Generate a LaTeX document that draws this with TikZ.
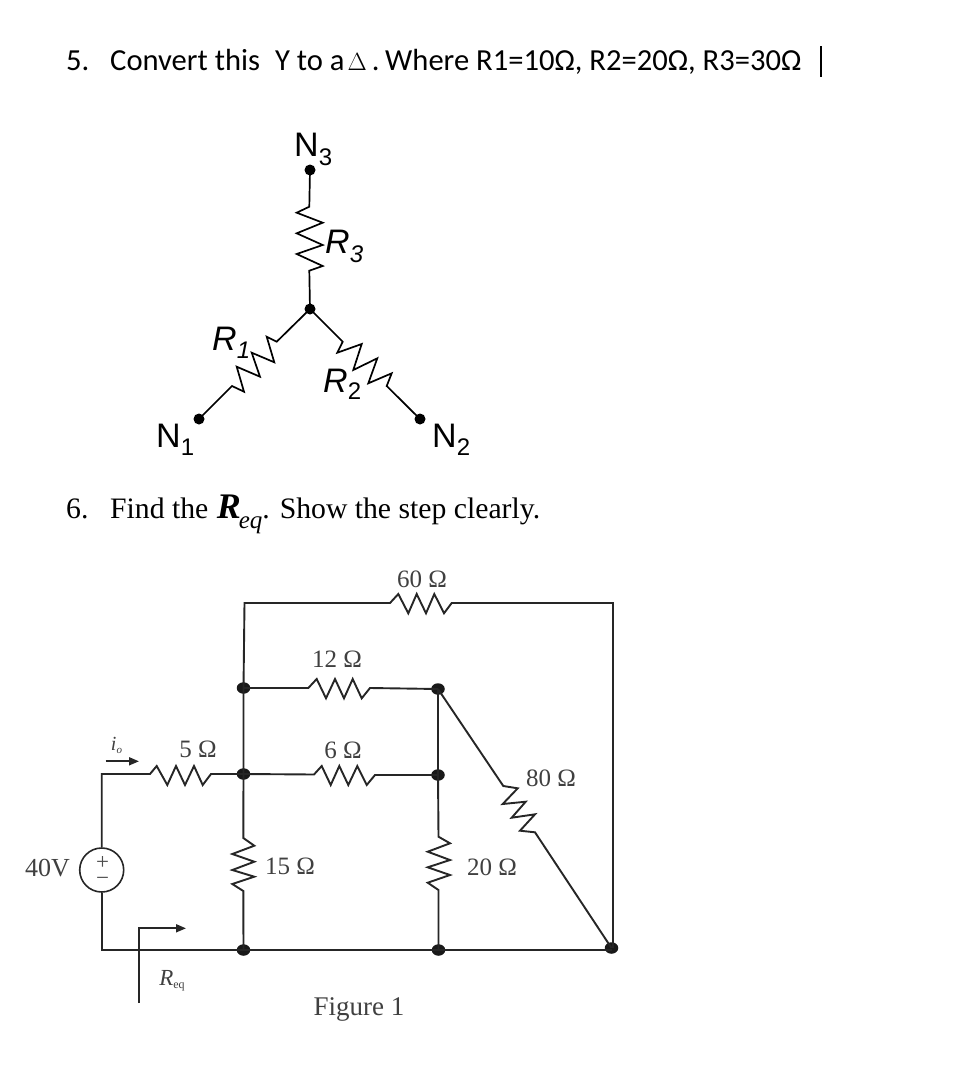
\documentclass[tikz,border=0pt]{standalone}
\usepackage{fontspec}
\setmainfont{Liberation Serif}
\newfontfamily\calib{Carlito}
\newfontfamily\helv{Liberation Sans}
\usetikzlibrary{arrows.meta,shapes.geometric}
\newcommand{\fs}[1]{\fontsize{#1}{#1}\selectfont}
\newcommand{\lowsub}[2]{\raisebox{-#1pt}{\fs{24}\upshape #2}}
\newcommand{\pmfont}{\fontsize{23}{16}\selectfont\lineskiplimit=-100pt\relax}
\tikzset{
  wire/.style={line width=1.9pt,draw=black!85,line join=miter},
  ywire/.style={line width=1.7pt,draw=black,line join=miter},
  jdot/.style={shape=ellipse,fill=black!90,inner sep=0pt,minimum width=13.5pt,minimum height=11.5pt},
  ydot/.style={shape=circle,fill=black,inner sep=0pt,minimum size=11pt},
  val/.style={inner sep=0pt,text=black!75,font=\fs{25}},
  ylab/.style={inner sep=0pt,anchor=base west,font=\helv\fs{34}},
  ptr/.style={line width=1.8pt,draw=black!85,-{Triangle[length=10pt,width=8pt]}},
  title/.style={inner sep=0pt,anchor=base west,font=\calib\fs{30.6}},
  head/.style={inner sep=0pt,anchor=base west,font=\fs{29.7}},
}
\begin{document}
\begin{tikzpicture}[x=1pt,y=-1pt]
\useasboundingbox (0,0) rectangle (978,1076);
% headings
\node[title] (q5) at (66,70) {5.};
\node[title] (q5a) at (110,70) {Convert this\hspace{15pt}Y to a\hspace{3pt}$\Delta$\hspace{5pt}.};
\node[title] (q5b) at (385,70) {Where R1=10Ω, R2=20Ω, R3=30Ω};
\coordinate (curT) at (821,46);
\coordinate (curB) at (821,77);
\draw[line width=1.4pt] (curT) -- (curB);
\node[head] (q6) at (66,518) {6.};
\node[head] (q6a) at (110,518) {Find the\hspace{8.5pt}{\fs{36}\bfseries\itshape R}\hspace{-2pt}\raisebox{-10pt}{\fs{25}\itshape eq}. Show the step clearly.};
% Y network
\node[ydot] (n3) at (310,170) {};
\node[ydot] (c) at (310,309) {};
\node[ydot] (n1) at (199,419) {};
\node[ydot] (n2) at (420,419) {};
\draw[ywire] (n3.center) -- (309.3,206.7) -- (296.7,212.7) -- (322.7,222.7) -- (296.7,233.3) -- (322.7,245) -- (296.7,254) -- (322.7,266) -- (309.3,270.7) -- (c.center);
\draw[ywire] (c.center) -- (276.7,341.7) -- (266.7,336.7) -- (274.3,362.3) -- (251.7,352.7) -- (260,376.7) -- (236.7,366.7) -- (244,391.7) -- (232,386) -- (n1.center);
\draw[ywire] (c.center) -- (342.7,341.7) -- (337.3,352.7) -- (361.7,344) -- (353.3,370) -- (377.3,358.3) -- (368.3,383.3) -- (391.7,373.3) -- (386.7,386) -- (n2.center);
\node[ylab] (ln3) at (294,156.7) {N\lowsub{8.5}{3}};
\node[ylab] (lr3) at (325,253) {\itshape R\lowsub{9}{\itshape 3}};
\node[ylab] (lr1) at (212,350) {\itshape R\lowsub{8}{\itshape 1}};
\node[ylab] (lr2) at (323,392) {\itshape R\lowsub{7}{2}};
\node[ylab] (ln1) at (156,447) {N\lowsub{8}{1}};
\node[ylab] (ln2) at (432,447) {N\lowsub{8}{2}};
% circuit nodes
\node[jdot] (a1) at (243.5,688) {};
\node[jdot] (a2) at (243.5,774) {};
\node[jdot] (a3) at (243.5,950) {};
\node[jdot] (b1) at (438,689) {};
\node[jdot] (b2) at (438,775) {};
\node[jdot] (b3) at (438.5,950) {};
\node[jdot] (d) at (611.5,948) {};
\node[draw=black!85,line width=1.6pt,shape=circle,inner sep=0pt,minimum size=44pt] (src) at (101.7,870) {};
\node[inner sep=0pt,text=black!70,align=center,font=\pmfont] (pm) at (102.5,871) {+\\−};
\coordinate (tl) at (101.7,774);
\coordinate (bl) at (101.7,950);
\coordinate (top) at (244.5,603);
\coordinate (topr) at (613,603);
% wires
\draw[wire] (src.north) -- (tl) -- (150,774) -- (156.7,766) -- (167.3,785) -- (176,766) -- (185,785) -- (194,766) -- (202.7,785) -- (211,774) -- (a2.center);
\draw[wire] (src.south) -- (bl) -- (a3.center);
\draw[wire] (a3.center) -- (b3.center) -- (d.center |- b3.center);
\draw[wire] (a3.center) -- (243.3,891) -- (232.3,884) -- (254.3,876.7) -- (232.3,870) -- (254.3,861.7) -- (232.3,854) -- (254.3,845.7) -- (243.3,838) -- (a2.center);
\draw[wire] (a2.center) -- (a1.center) -- (top) -- (390,603) -- (398.3,594) -- (408.3,613.3) -- (416.7,594) -- (426,613.3) -- (434.3,594) -- (444,613.3) -- (451.7,603) -- (topr) -- (topr |- d.center);
\draw[wire] (a1.center) -- (308.3,688) -- (316.7,679) -- (326,698.3) -- (335,679) -- (344,698.3) -- (352.7,679) -- (361.7,698.3) -- (370,688) -- (b1.center);
\draw[wire] (a2.center) -- (314,774.5) -- (321.7,766) -- (330.7,785) -- (339.3,766) -- (348.3,785) -- (357.3,766) -- (366.7,785) -- (375,775) -- (b2.center);
\draw[wire] (b1.center) -- (b2.center) -- (438.5,836.7) -- (450,843.3) -- (427.7,851.7) -- (450,860) -- (427.7,867.3) -- (450,875) -- (427.7,882.7) -- (438.5,890) -- (b3.center);
\draw[wire] (b1.center) -- (503.3,786) -- (517.7,788.3) -- (502.7,804) -- (525.7,801.7) -- (511.7,817.7) -- (535,814.3) -- (520,830.7) -- (535,832.3) -- (d.center);
% arrows
\coordinate (ia) at (105.7,761.3);
\coordinate (ib) at (139,761.3);
\draw[ptr] (ia) -- (ib);
\coordinate (ra) at (139,1003);
\coordinate (rb) at (139,928.3);
\coordinate (rc) at (186,928.3);
\draw[ptr] (ra) -- (rb) -- (rc);
% labels
\node[val,font=\fs{26}] (l40) at (47.5,868) {40V};
\node[val] (l5) at (198,749) {5 Ω};
\node[val] (l15) at (290,866) {15 Ω};
\node[val] (l60) at (422,579) {60 Ω};
\node[val] (l12) at (337,659) {12 Ω};
\node[val] (l6) at (343,750) {6 Ω};
\node[val] (l80) at (551,778) {80 Ω};
\node[val] (l20) at (492,867) {20 Ω};
\node[inner sep=0pt,anchor=base,text=black!75,font=\fs{27}] (fig) at (359,1015) {Figure 1};
\node[inner sep=0pt,text=black!75,font=\fs{23}\itshape] (req) at (172,981) {R\raisebox{-3pt}{\fs{12}\upshape eq}};
\node[inner sep=0pt,text=black!75,font=\fs{20}\itshape] (io) at (116.5,745.5) {i\raisebox{-3pt}{\fs{11}o}};
\end{tikzpicture}
\end{document}
